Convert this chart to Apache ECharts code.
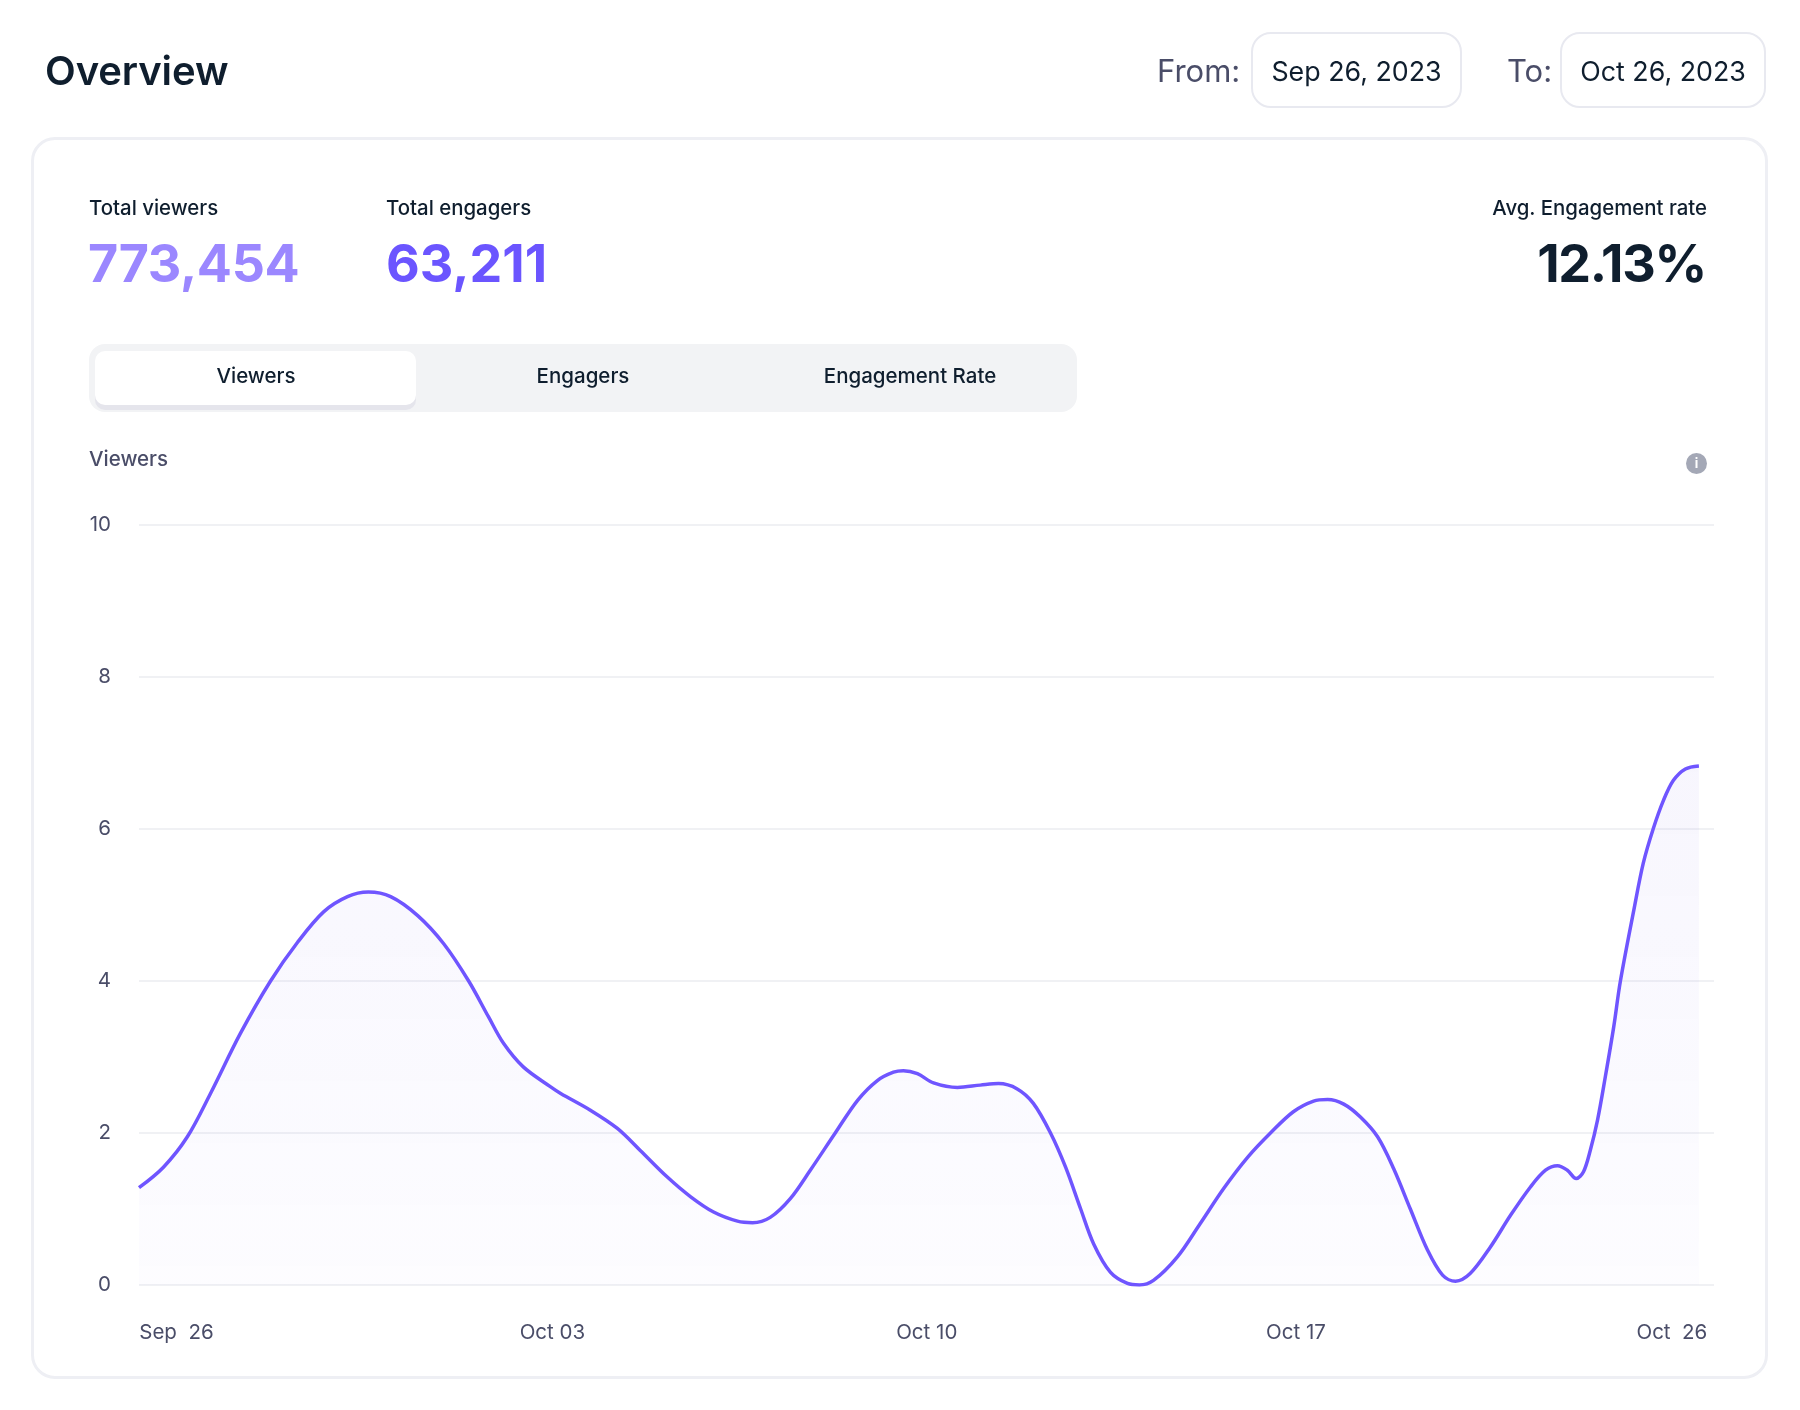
<!DOCTYPE html>
<html>
<head>
<meta charset="utf-8">
<style>
  html, body { margin: 0; width: 1800px; height: 1410px; background: #fff; overflow: hidden; font-family: Inter, sans-serif; color: #0f1e2e; }
  #chart { position: absolute; left: 0; top: 0; width: 1800px; height: 1410px; }
  .abs { position: absolute; white-space: nowrap; }
  .card { left: 31px; top: 137px; width: 1731px; height: 1236px; border: 3px solid #eeeff4; border-radius: 24px; }
  .date { top: 32px; height: 76px; line-height: 74px; border: 2px solid #e8e9f0; border-radius: 20px; box-sizing: border-box; text-align: center; font-size: 26.8px; }
  .lbl { font-size: 31px; color: #4a4d68; top: 49px; line-height: 44px; }
  .sm { font-size: 20.4px; font-weight: 500; top: 196px; line-height: 24px; }
  .big { font-size: 52px; font-weight: 700; top: 233px; line-height: 62px; }
  .bar { left: 89px; top: 344px; width: 988px; height: 68px; background: #f2f3f5; border-radius: 16px; }
  .active { left: 95px; top: 351px; width: 321px; height: 54px; background: #fff; border-radius: 10px; box-shadow: 0 5px 0 #e5e5ec; }
  .tab { top: 344px; line-height: 64px; font-size: 20.5px; font-weight: 500; transform: translateX(-50%); }
  .info { left: 1686px; top: 453px; width: 21px; height: 21px; border-radius: 50%; background: #a4a8b6; color: #fff; font-size: 13px; font-weight: 700; line-height: 21px; text-align: center; }
</style>
</head>
<body>
<div id="chart"></div>
<div class="abs" style="left:45px;top:46px;font-size:40px;font-weight:600;line-height:50px;letter-spacing:-0.1px">Overview</div>
<div class="abs lbl" style="left:1157px">From:</div>
<div class="abs date" style="left:1251px;width:211px">Sep 26, 2023</div>
<div class="abs lbl" style="left:1507px">To:</div>
<div class="abs date" style="left:1560px;width:206px">Oct 26, 2023</div>
<div class="abs card"></div>
<div class="abs sm" style="left:89px">Total viewers</div>
<div class="abs big" style="left:88px;color:#9b87ff;letter-spacing:-0.4px">773,454</div>
<div class="abs sm" style="left:386px">Total engagers</div>
<div class="abs big" style="left:386px;color:#6b55ff">63,211</div>
<div class="abs sm" style="right:93px">Avg. Engagement rate</div>
<div class="abs big" style="right:94px;letter-spacing:-1.3px">12.13%</div>
<div class="abs bar"></div>
<div class="abs active"></div>
<div class="abs tab" style="left:256px">Viewers</div>
<div class="abs tab" style="left:583px">Engagers</div>
<div class="abs tab" style="left:910px">Engagement Rate</div>
<div class="abs info">i</div>

<script src="https://cdn.jsdelivr.net/npm/echarts@6/dist/echarts.min.js"></script>
<script>
// x position of each reading, in days since Sep 26
const days = [0, 0.47, 0.93, 1.375, 1.95, 2.53, 3.05, 3.55, 4.01, 4.41, 4.84, 5.36, 5.86, 6.34, 6.72, 7.01, 7.39, 7.91, 8.11, 8.68, 9.2, 9.64, 10.16, 10.61, 11.05, 11.51, 11.8, 12.14, 12.53, 12.91, 13.39, 13.82, 14.2, 14.51, 14.7, 14.97, 15.28, 15.74, 16.18, 16.53, 16.89, 17.2, 17.53, 17.82, 18.11, 18.36, 18.68, 19.01, 19.24, 19.51, 19.97, 20.41, 20.86, 21.32, 21.76, 22.2, 22.59, 22.86, 23.17, 23.49, 23.82, 24.13, 24.45, 24.78, 25.07, 25.32, 25.6, 25.99, 26.38, 26.76, 27.05, 27.28, 27.47, 27.64, 27.78, 27.91, 28.05, 28.2, 28.36, 28.49, 28.75, 28.93, 29.12, 29.32, 29.51, 29.74, 30];
const viewers = [1.28, 1.55, 1.95, 2.52, 3.31, 4.0, 4.51, 4.91, 5.11, 5.17, 5.11, 4.86, 4.49, 4.0, 3.53, 3.18, 2.87, 2.61, 2.52, 2.3, 2.06, 1.77, 1.42, 1.16, 0.96, 0.84, 0.82, 0.89, 1.14, 1.51, 2.0, 2.43, 2.69, 2.8, 2.82, 2.78, 2.66, 2.6, 2.63, 2.65, 2.58, 2.39, 2.0, 1.55, 1.0, 0.54, 0.17, 0.02, 0, 0.06, 0.37, 0.81, 1.27, 1.68, 2.0, 2.28, 2.42, 2.44, 2.38, 2.21, 1.95, 1.53, 1.0, 0.46, 0.13, 0.05, 0.15, 0.5, 0.92, 1.29, 1.51, 1.57, 1.51, 1.4, 1.49, 1.77, 2.17, 2.74, 3.39, 4.0, 4.94, 5.55, 6.0, 6.38, 6.64, 6.79, 6.83];
const tickDays = [0.72, 7.95, 15.15, 22.25, 29.48];
const tickLabels = ['Sep  26', 'Oct 03', 'Oct 10', 'Oct 17', 'Oct  26'];

const chart = echarts.init(document.getElementById('chart'));
chart.setOption({
  animation: false,
  textStyle: { fontFamily: 'Inter' },
  grid: { left: 139, right: 86, top: 525, height: 760 },
  xAxis: {
    type: 'value',
    min: 0,
    max: 30.29,
    axisLine: { show: false },
    axisTick: { show: false },
    splitLine: { show: false },
    axisLabel: {
      customValues: tickDays,
      formatter: v => tickLabels[tickDays.indexOf(v)],
      color: '#4a4d68',
      fontSize: 20.5,
      margin: 37
    }
  },
  yAxis: {
    type: 'value',
    min: 0,
    max: 10,
    interval: 2,
    axisLine: { show: false },
    axisTick: { show: false },
    splitLine: { lineStyle: { color: '#ebecf1', width: 1.5 } },
    axisLabel: { color: '#4a4d68', fontSize: 20.5, margin: 28 },
    name: 'Viewers',
    nameLocation: 'end',
    nameGap: 55,
    nameTextStyle: { color: '#4a4d68', fontSize: 20.5, fontWeight: 500, align: 'left', padding: [0, 0, 0, -50] }
  },
  series: [{
    type: 'line',
    data: days.map((d, i) => [d, viewers[i]]),
    smooth: 0.33,
    showSymbol: false,
    lineStyle: { color: '#6f55ff', width: 3.5 },
    areaStyle: {
      color: new echarts.graphic.LinearGradient(0, 0, 0, 1, [
        { offset: 0, color: 'rgba(96,70,220,0.07)' },
        { offset: 1, color: 'rgba(110,85,255,0.025)' }
      ])
    }
  }]
});
</script>
</body>
</html>
